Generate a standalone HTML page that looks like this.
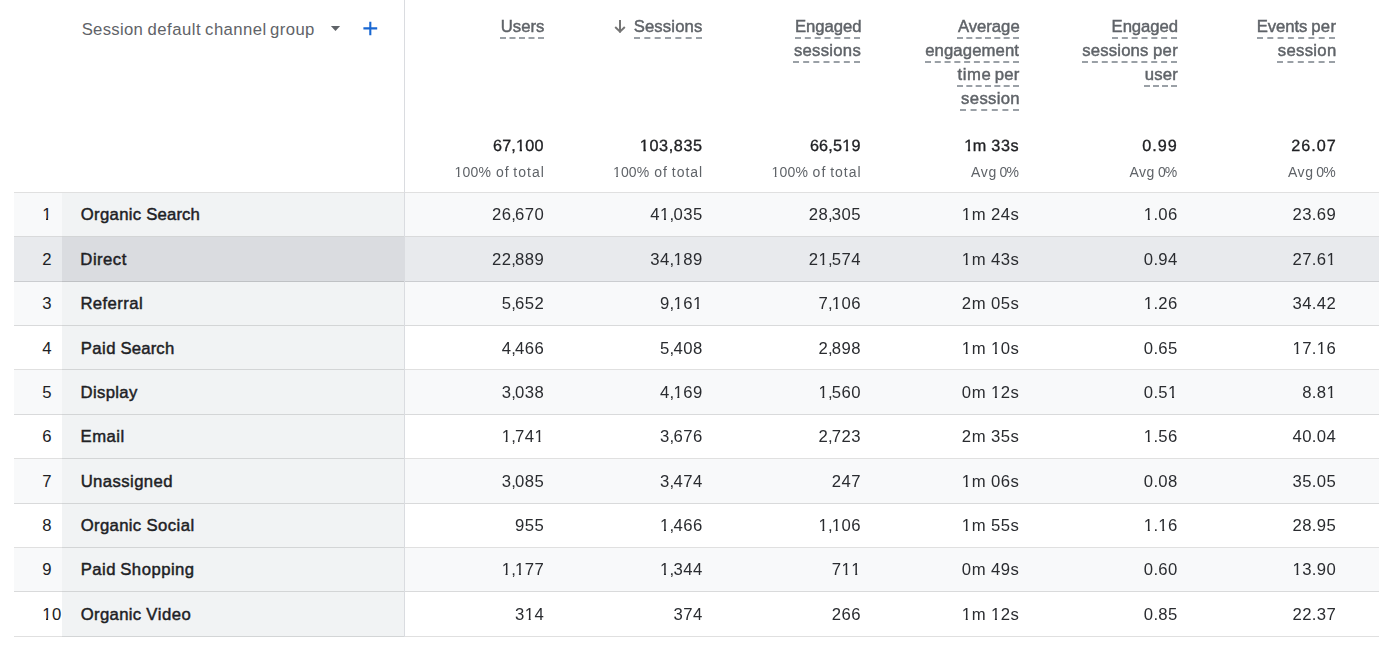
<!DOCTYPE html><html><head><meta charset="utf-8"><title>Report</title><style>
html,body{margin:0;padding:0;background:#fff;}
body{width:1384px;height:645px;position:relative;overflow:hidden;font-family:"Liberation Sans", sans-serif;}
.b{position:absolute;}
.t{position:absolute;height:20px;line-height:20px;white-space:pre;}
.num{position:absolute;left:0;height:20px;line-height:20px;width:1384px;}
.c{position:absolute;top:0;text-align:center;display:block;}
.ul{position:absolute;height:0;border-bottom:2px dashed #9aa0a6;}
</style></head><body>
<div class="b" style="left:14px;top:193px;width:1365px;height:44px;background:#f8f9fa"></div>
<div class="b" style="left:62px;top:193px;width:342px;height:44px;background:#f1f3f4"></div>
<div class="b" style="left:14px;top:237px;width:1365px;height:45px;background:#e8eaed"></div>
<div class="b" style="left:62px;top:237px;width:342px;height:45px;background:#dadce0"></div>
<div class="b" style="left:14px;top:282px;width:1365px;height:44px;background:#f8f9fa"></div>
<div class="b" style="left:62px;top:282px;width:342px;height:44px;background:#f1f3f4"></div>
<div class="b" style="left:14px;top:326px;width:1365px;height:44px;background:#fff"></div>
<div class="b" style="left:62px;top:326px;width:342px;height:44px;background:#f1f3f4"></div>
<div class="b" style="left:14px;top:370px;width:1365px;height:45px;background:#f8f9fa"></div>
<div class="b" style="left:62px;top:370px;width:342px;height:45px;background:#f1f3f4"></div>
<div class="b" style="left:14px;top:415px;width:1365px;height:44px;background:#fff"></div>
<div class="b" style="left:62px;top:415px;width:342px;height:44px;background:#f1f3f4"></div>
<div class="b" style="left:14px;top:459px;width:1365px;height:45px;background:#f8f9fa"></div>
<div class="b" style="left:62px;top:459px;width:342px;height:45px;background:#f1f3f4"></div>
<div class="b" style="left:14px;top:504px;width:1365px;height:44px;background:#fff"></div>
<div class="b" style="left:62px;top:504px;width:342px;height:44px;background:#f1f3f4"></div>
<div class="b" style="left:14px;top:548px;width:1365px;height:44px;background:#f8f9fa"></div>
<div class="b" style="left:62px;top:548px;width:342px;height:44px;background:#f1f3f4"></div>
<div class="b" style="left:14px;top:592px;width:1365px;height:45px;background:#fff"></div>
<div class="b" style="left:62px;top:592px;width:342px;height:45px;background:#f1f3f4"></div>
<div class="b" style="left:14px;top:192px;width:1365px;height:1px;background:rgba(0,0,0,0.12)"></div>
<div class="b" style="left:14px;top:236px;width:1365px;height:1px;background:rgba(0,0,0,0.12)"></div>
<div class="b" style="left:14px;top:281px;width:1365px;height:1px;background:rgba(0,0,0,0.12)"></div>
<div class="b" style="left:14px;top:325px;width:1365px;height:1px;background:rgba(0,0,0,0.12)"></div>
<div class="b" style="left:14px;top:369px;width:1365px;height:1px;background:rgba(0,0,0,0.12)"></div>
<div class="b" style="left:14px;top:414px;width:1365px;height:1px;background:rgba(0,0,0,0.12)"></div>
<div class="b" style="left:14px;top:458px;width:1365px;height:1px;background:rgba(0,0,0,0.12)"></div>
<div class="b" style="left:14px;top:503px;width:1365px;height:1px;background:rgba(0,0,0,0.12)"></div>
<div class="b" style="left:14px;top:547px;width:1365px;height:1px;background:rgba(0,0,0,0.12)"></div>
<div class="b" style="left:14px;top:591px;width:1365px;height:1px;background:rgba(0,0,0,0.12)"></div>
<div class="b" style="left:14px;top:636px;width:1365px;height:1px;background:rgba(0,0,0,0.12)"></div>
<div class="b" style="left:404px;top:0;width:1px;height:637px;background:#dadce0"></div>
<svg class="b" style="left:320px;top:14px" width="30" height="30" viewBox="0 0 30 30"><path d="M10.9 11.9H20.1L15.5 16.9z" fill="#5f6368"/></svg>
<svg class="b" style="left:360px;top:18px" width="21" height="21" viewBox="0 0 21 21"><path d="M3.4 10.4H17.2M10.3 3.8V17.2" stroke="#1967d2" stroke-width="2.1" fill="none"/></svg>
<svg class="b" style="left:608px;top:14px" width="24" height="26" viewBox="0 0 24 26"><path d="M12 6.05V18.4" stroke="#757575" stroke-width="2" fill="none"/><path d="M7.2 13L12 17.75L16.8 13" stroke="#757575" stroke-width="1.9" fill="none" stroke-linejoin="miter"/></svg>
<div class="ul" style="left:500px;top:37px;width:44px"></div>
<div class="ul" style="left:634px;top:37px;width:68px"></div>
<div class="ul" style="left:795px;top:37px;width:65px"></div>
<div class="ul" style="left:793px;top:61px;width:67px"></div>
<div class="ul" style="left:957px;top:37px;width:62px"></div>
<div class="ul" style="left:925px;top:61px;width:94px"></div>
<div class="ul" style="left:957px;top:85px;width:62px"></div>
<div class="ul" style="left:960px;top:109px;width:59px"></div>
<div class="ul" style="left:1112px;top:37px;width:65px"></div>
<div class="ul" style="left:1082px;top:61px;width:95px"></div>
<div class="ul" style="left:1144px;top:85px;width:33px"></div>
<div class="ul" style="left:1257px;top:37px;width:78px"></div>
<div class="ul" style="left:1277px;top:61px;width:58px"></div>
<div class="num" style="top:205px;font-size:16.7px;color:#202124"><span class="c" style="left:41.90px;width:9.75px"><span style="display:inline-block;clip-path:polygon(-2px -2px,30px -2px,30px 13.00px,5.98px 13.00px,5.98px 30px,3.90px 30px,3.90px 13.00px,-2px 13.00px)">1</span></span></div>
<div class="num" style="top:250px;font-size:16.7px;color:#202124"><span class="c" style="left:41.90px;width:9.75px">2</span></div>
<div class="num" style="top:294px;font-size:16.7px;color:#202124"><span class="c" style="left:41.90px;width:9.75px">3</span></div>
<div class="num" style="top:339px;font-size:16.7px;color:#202124"><span class="c" style="left:41.90px;width:9.75px">4</span></div>
<div class="num" style="top:383px;font-size:16.7px;color:#202124"><span class="c" style="left:41.90px;width:9.75px">5</span></div>
<div class="num" style="top:427px;font-size:16.7px;color:#202124"><span class="c" style="left:41.90px;width:9.75px">6</span></div>
<div class="num" style="top:472px;font-size:16.7px;color:#202124"><span class="c" style="left:41.90px;width:9.75px">7</span></div>
<div class="num" style="top:516px;font-size:16.7px;color:#202124"><span class="c" style="left:41.90px;width:9.75px">8</span></div>
<div class="num" style="top:560px;font-size:16.7px;color:#202124"><span class="c" style="left:41.90px;width:9.75px">9</span></div>
<div class="num" style="top:605px;font-size:16.7px;color:#202124"><span class="c" style="left:41.90px;width:9.75px"><span style="display:inline-block;clip-path:polygon(-2px -2px,30px -2px,30px 13.00px,5.98px 13.00px,5.98px 30px,3.90px 30px,3.90px 13.00px,-2px 13.00px)">1</span></span><span class="c" style="left:51.65px;width:9.75px">0</span></div>
<div class="t" id="hdim_0" style="left:81.69px;top:20px;font-size:16.7px;color:#5f6368;letter-spacing:0.307px;">Session</div>
<div class="t" id="hdim_1" style="left:147.56px;top:20px;font-size:16.7px;color:#5f6368;letter-spacing:0.503px;">default</div>
<div class="t" id="hdim_2" style="left:205.12px;top:20px;font-size:16.7px;color:#5f6368;letter-spacing:0.426px;">channel</div>
<div class="t" id="hdim_3" style="left:270.06px;top:20px;font-size:16.7px;color:#5f6368;letter-spacing:0.408px;">group</div>
<div class="t" id="n0_0" style="left:80.79px;top:205px;font-size:16.7px;color:#202124;letter-spacing:0.328px;-webkit-text-stroke:0.45px currentColor;">Organic</div>
<div class="t" id="n0_1" style="left:146.33px;top:205px;font-size:16.7px;color:#202124;letter-spacing:0.125px;-webkit-text-stroke:0.45px currentColor;">Search</div>
<div class="t" id="n1_0" style="left:80.35px;top:250px;font-size:16.7px;color:#202124;letter-spacing:0.482px;-webkit-text-stroke:0.45px currentColor;">Direct</div>
<div class="t" id="n2_0" style="left:80.39px;top:294px;font-size:16.7px;color:#202124;letter-spacing:0.419px;-webkit-text-stroke:0.45px currentColor;">Referral</div>
<div class="t" id="n3_0" style="left:80.66px;top:339px;font-size:16.7px;color:#202124;letter-spacing:0.468px;-webkit-text-stroke:0.45px currentColor;">Paid</div>
<div class="t" id="n3_1" style="left:120.42px;top:339px;font-size:16.7px;color:#202124;letter-spacing:0.179px;-webkit-text-stroke:0.45px currentColor;">Search</div>
<div class="t" id="n4_0" style="left:80.54px;top:383px;font-size:16.7px;color:#202124;letter-spacing:0.332px;-webkit-text-stroke:0.45px currentColor;">Display</div>
<div class="t" id="n5_0" style="left:80.53px;top:427px;font-size:16.7px;color:#202124;letter-spacing:0.492px;-webkit-text-stroke:0.45px currentColor;">Email</div>
<div class="t" id="n6_0" style="left:80.64px;top:472px;font-size:16.7px;color:#202124;letter-spacing:0.422px;-webkit-text-stroke:0.45px currentColor;">Unassigned</div>
<div class="t" id="n7_0" style="left:80.79px;top:516px;font-size:16.7px;color:#202124;letter-spacing:0.328px;-webkit-text-stroke:0.45px currentColor;">Organic</div>
<div class="t" id="n7_1" style="left:146.40px;top:516px;font-size:16.7px;color:#202124;letter-spacing:0.483px;-webkit-text-stroke:0.45px currentColor;">Social</div>
<div class="t" id="n8_0" style="left:80.66px;top:560px;font-size:16.7px;color:#202124;letter-spacing:0.468px;-webkit-text-stroke:0.45px currentColor;">Paid</div>
<div class="t" id="n8_1" style="left:120.27px;top:560px;font-size:16.7px;color:#202124;letter-spacing:0.477px;-webkit-text-stroke:0.45px currentColor;">Shopping</div>
<div class="t" id="n9_0" style="left:80.79px;top:605px;font-size:16.7px;color:#202124;letter-spacing:0.328px;-webkit-text-stroke:0.45px currentColor;">Organic</div>
<div class="t" id="n9_1" style="left:146.30px;top:605px;font-size:16.7px;color:#202124;letter-spacing:0.530px;-webkit-text-stroke:0.45px currentColor;">Video</div>
<div class="b" style="left:0;top:0;width:1384px;height:645px;will-change:transform">
<div class="num" style="top:205px;font-size:16.7px;color:#2a2c30"><span class="c" style="left:491.65px;width:9.75px">2</span><span class="c" style="left:501.40px;width:9.75px">6</span><span class="c" style="left:511.15px;width:3.60px">,</span><span class="c" style="left:514.75px;width:9.75px">6</span><span class="c" style="left:524.50px;width:9.75px">7</span><span class="c" style="left:534.25px;width:9.75px">0</span></div>
<div class="num" style="top:205px;font-size:16.7px;color:#2a2c30"><span class="c" style="left:650.05px;width:9.75px">4</span><span class="c" style="left:659.80px;width:9.75px"><span style="display:inline-block;clip-path:polygon(-2px -2px,30px -2px,30px 13.00px,5.98px 13.00px,5.98px 30px,3.90px 30px,3.90px 13.00px,-2px 13.00px)">1</span></span><span class="c" style="left:669.55px;width:3.60px">,</span><span class="c" style="left:673.15px;width:9.75px">0</span><span class="c" style="left:682.90px;width:9.75px">3</span><span class="c" style="left:692.65px;width:9.75px">5</span></div>
<div class="num" style="top:205px;font-size:16.7px;color:#2a2c30"><span class="c" style="left:808.45px;width:9.75px">2</span><span class="c" style="left:818.20px;width:9.75px">8</span><span class="c" style="left:827.95px;width:3.60px">,</span><span class="c" style="left:831.55px;width:9.75px">3</span><span class="c" style="left:841.30px;width:9.75px">0</span><span class="c" style="left:851.05px;width:9.75px">5</span></div>
<div class="num" style="top:205px;font-size:16.7px;color:#2a2c30"><span class="c" style="left:961.56px;width:9.75px"><span style="display:inline-block;clip-path:polygon(-2px -2px,30px -2px,30px 13.00px,5.98px 13.00px,5.98px 30px,3.90px 30px,3.90px 13.00px,-2px 13.00px)">1</span></span><span class="c" style="left:971.31px;width:14.97px">m</span><span class="c" style="left:986.28px;width:4.46px"> </span><span class="c" style="left:990.74px;width:9.75px">2</span><span class="c" style="left:1000.49px;width:9.75px">4</span><span class="c" style="left:1010.24px;width:8.96px">s</span></div>
<div class="num" style="top:205px;font-size:16.7px;color:#2a2c30"><span class="c" style="left:1143.63px;width:9.75px"><span style="display:inline-block;clip-path:polygon(-2px -2px,30px -2px,30px 13.00px,5.98px 13.00px,5.98px 30px,3.90px 30px,3.90px 13.00px,-2px 13.00px)">1</span></span><span class="c" style="left:1153.38px;width:4.72px">.</span><span class="c" style="left:1158.10px;width:9.75px">0</span><span class="c" style="left:1167.85px;width:9.75px">6</span></div>
<div class="num" style="top:205px;font-size:16.7px;color:#2a2c30"><span class="c" style="left:1292.28px;width:9.75px">2</span><span class="c" style="left:1302.03px;width:9.75px">3</span><span class="c" style="left:1311.78px;width:4.72px">.</span><span class="c" style="left:1316.50px;width:9.75px">6</span><span class="c" style="left:1326.25px;width:9.75px">9</span></div>
<div class="num" style="top:250px;font-size:16.7px;color:#2a2c30"><span class="c" style="left:491.65px;width:9.75px">2</span><span class="c" style="left:501.40px;width:9.75px">2</span><span class="c" style="left:511.15px;width:3.60px">,</span><span class="c" style="left:514.75px;width:9.75px">8</span><span class="c" style="left:524.50px;width:9.75px">8</span><span class="c" style="left:534.25px;width:9.75px">9</span></div>
<div class="num" style="top:250px;font-size:16.7px;color:#2a2c30"><span class="c" style="left:650.05px;width:9.75px">3</span><span class="c" style="left:659.80px;width:9.75px">4</span><span class="c" style="left:669.55px;width:3.60px">,</span><span class="c" style="left:673.15px;width:9.75px"><span style="display:inline-block;clip-path:polygon(-2px -2px,30px -2px,30px 13.00px,5.98px 13.00px,5.98px 30px,3.90px 30px,3.90px 13.00px,-2px 13.00px)">1</span></span><span class="c" style="left:682.90px;width:9.75px">8</span><span class="c" style="left:692.65px;width:9.75px">9</span></div>
<div class="num" style="top:250px;font-size:16.7px;color:#2a2c30"><span class="c" style="left:808.45px;width:9.75px">2</span><span class="c" style="left:818.20px;width:9.75px"><span style="display:inline-block;clip-path:polygon(-2px -2px,30px -2px,30px 13.00px,5.98px 13.00px,5.98px 30px,3.90px 30px,3.90px 13.00px,-2px 13.00px)">1</span></span><span class="c" style="left:827.95px;width:3.60px">,</span><span class="c" style="left:831.55px;width:9.75px">5</span><span class="c" style="left:841.30px;width:9.75px">7</span><span class="c" style="left:851.05px;width:9.75px">4</span></div>
<div class="num" style="top:250px;font-size:16.7px;color:#2a2c30"><span class="c" style="left:961.56px;width:9.75px"><span style="display:inline-block;clip-path:polygon(-2px -2px,30px -2px,30px 13.00px,5.98px 13.00px,5.98px 30px,3.90px 30px,3.90px 13.00px,-2px 13.00px)">1</span></span><span class="c" style="left:971.31px;width:14.97px">m</span><span class="c" style="left:986.28px;width:4.46px"> </span><span class="c" style="left:990.74px;width:9.75px">4</span><span class="c" style="left:1000.49px;width:9.75px">3</span><span class="c" style="left:1010.24px;width:8.96px">s</span></div>
<div class="num" style="top:250px;font-size:16.7px;color:#2a2c30"><span class="c" style="left:1143.63px;width:9.75px">0</span><span class="c" style="left:1153.38px;width:4.72px">.</span><span class="c" style="left:1158.10px;width:9.75px">9</span><span class="c" style="left:1167.85px;width:9.75px">4</span></div>
<div class="num" style="top:250px;font-size:16.7px;color:#2a2c30"><span class="c" style="left:1292.28px;width:9.75px">2</span><span class="c" style="left:1302.03px;width:9.75px">7</span><span class="c" style="left:1311.78px;width:4.72px">.</span><span class="c" style="left:1316.50px;width:9.75px">6</span><span class="c" style="left:1326.25px;width:9.75px"><span style="display:inline-block;clip-path:polygon(-2px -2px,30px -2px,30px 13.00px,5.98px 13.00px,5.98px 30px,3.90px 30px,3.90px 13.00px,-2px 13.00px)">1</span></span></div>
<div class="num" style="top:294px;font-size:16.7px;color:#2a2c30"><span class="c" style="left:501.40px;width:9.75px">5</span><span class="c" style="left:511.15px;width:3.60px">,</span><span class="c" style="left:514.75px;width:9.75px">6</span><span class="c" style="left:524.50px;width:9.75px">5</span><span class="c" style="left:534.25px;width:9.75px">2</span></div>
<div class="num" style="top:294px;font-size:16.7px;color:#2a2c30"><span class="c" style="left:659.80px;width:9.75px">9</span><span class="c" style="left:669.55px;width:3.60px">,</span><span class="c" style="left:673.15px;width:9.75px"><span style="display:inline-block;clip-path:polygon(-2px -2px,30px -2px,30px 13.00px,5.98px 13.00px,5.98px 30px,3.90px 30px,3.90px 13.00px,-2px 13.00px)">1</span></span><span class="c" style="left:682.90px;width:9.75px">6</span><span class="c" style="left:692.65px;width:9.75px"><span style="display:inline-block;clip-path:polygon(-2px -2px,30px -2px,30px 13.00px,5.98px 13.00px,5.98px 30px,3.90px 30px,3.90px 13.00px,-2px 13.00px)">1</span></span></div>
<div class="num" style="top:294px;font-size:16.7px;color:#2a2c30"><span class="c" style="left:818.20px;width:9.75px">7</span><span class="c" style="left:827.95px;width:3.60px">,</span><span class="c" style="left:831.55px;width:9.75px"><span style="display:inline-block;clip-path:polygon(-2px -2px,30px -2px,30px 13.00px,5.98px 13.00px,5.98px 30px,3.90px 30px,3.90px 13.00px,-2px 13.00px)">1</span></span><span class="c" style="left:841.30px;width:9.75px">0</span><span class="c" style="left:851.05px;width:9.75px">6</span></div>
<div class="num" style="top:294px;font-size:16.7px;color:#2a2c30"><span class="c" style="left:961.56px;width:9.75px">2</span><span class="c" style="left:971.31px;width:14.97px">m</span><span class="c" style="left:986.28px;width:4.46px"> </span><span class="c" style="left:990.74px;width:9.75px">0</span><span class="c" style="left:1000.49px;width:9.75px">5</span><span class="c" style="left:1010.24px;width:8.96px">s</span></div>
<div class="num" style="top:294px;font-size:16.7px;color:#2a2c30"><span class="c" style="left:1143.63px;width:9.75px"><span style="display:inline-block;clip-path:polygon(-2px -2px,30px -2px,30px 13.00px,5.98px 13.00px,5.98px 30px,3.90px 30px,3.90px 13.00px,-2px 13.00px)">1</span></span><span class="c" style="left:1153.38px;width:4.72px">.</span><span class="c" style="left:1158.10px;width:9.75px">2</span><span class="c" style="left:1167.85px;width:9.75px">6</span></div>
<div class="num" style="top:294px;font-size:16.7px;color:#2a2c30"><span class="c" style="left:1292.28px;width:9.75px">3</span><span class="c" style="left:1302.03px;width:9.75px">4</span><span class="c" style="left:1311.78px;width:4.72px">.</span><span class="c" style="left:1316.50px;width:9.75px">4</span><span class="c" style="left:1326.25px;width:9.75px">2</span></div>
<div class="num" style="top:339px;font-size:16.7px;color:#2a2c30"><span class="c" style="left:501.40px;width:9.75px">4</span><span class="c" style="left:511.15px;width:3.60px">,</span><span class="c" style="left:514.75px;width:9.75px">4</span><span class="c" style="left:524.50px;width:9.75px">6</span><span class="c" style="left:534.25px;width:9.75px">6</span></div>
<div class="num" style="top:339px;font-size:16.7px;color:#2a2c30"><span class="c" style="left:659.80px;width:9.75px">5</span><span class="c" style="left:669.55px;width:3.60px">,</span><span class="c" style="left:673.15px;width:9.75px">4</span><span class="c" style="left:682.90px;width:9.75px">0</span><span class="c" style="left:692.65px;width:9.75px">8</span></div>
<div class="num" style="top:339px;font-size:16.7px;color:#2a2c30"><span class="c" style="left:818.20px;width:9.75px">2</span><span class="c" style="left:827.95px;width:3.60px">,</span><span class="c" style="left:831.55px;width:9.75px">8</span><span class="c" style="left:841.30px;width:9.75px">9</span><span class="c" style="left:851.05px;width:9.75px">8</span></div>
<div class="num" style="top:339px;font-size:16.7px;color:#2a2c30"><span class="c" style="left:961.56px;width:9.75px"><span style="display:inline-block;clip-path:polygon(-2px -2px,30px -2px,30px 13.00px,5.98px 13.00px,5.98px 30px,3.90px 30px,3.90px 13.00px,-2px 13.00px)">1</span></span><span class="c" style="left:971.31px;width:14.97px">m</span><span class="c" style="left:986.28px;width:4.46px"> </span><span class="c" style="left:990.74px;width:9.75px"><span style="display:inline-block;clip-path:polygon(-2px -2px,30px -2px,30px 13.00px,5.98px 13.00px,5.98px 30px,3.90px 30px,3.90px 13.00px,-2px 13.00px)">1</span></span><span class="c" style="left:1000.49px;width:9.75px">0</span><span class="c" style="left:1010.24px;width:8.96px">s</span></div>
<div class="num" style="top:339px;font-size:16.7px;color:#2a2c30"><span class="c" style="left:1143.63px;width:9.75px">0</span><span class="c" style="left:1153.38px;width:4.72px">.</span><span class="c" style="left:1158.10px;width:9.75px">6</span><span class="c" style="left:1167.85px;width:9.75px">5</span></div>
<div class="num" style="top:339px;font-size:16.7px;color:#2a2c30"><span class="c" style="left:1292.28px;width:9.75px"><span style="display:inline-block;clip-path:polygon(-2px -2px,30px -2px,30px 13.00px,5.98px 13.00px,5.98px 30px,3.90px 30px,3.90px 13.00px,-2px 13.00px)">1</span></span><span class="c" style="left:1302.03px;width:9.75px">7</span><span class="c" style="left:1311.78px;width:4.72px">.</span><span class="c" style="left:1316.50px;width:9.75px"><span style="display:inline-block;clip-path:polygon(-2px -2px,30px -2px,30px 13.00px,5.98px 13.00px,5.98px 30px,3.90px 30px,3.90px 13.00px,-2px 13.00px)">1</span></span><span class="c" style="left:1326.25px;width:9.75px">6</span></div>
<div class="num" style="top:383px;font-size:16.7px;color:#2a2c30"><span class="c" style="left:501.40px;width:9.75px">3</span><span class="c" style="left:511.15px;width:3.60px">,</span><span class="c" style="left:514.75px;width:9.75px">0</span><span class="c" style="left:524.50px;width:9.75px">3</span><span class="c" style="left:534.25px;width:9.75px">8</span></div>
<div class="num" style="top:383px;font-size:16.7px;color:#2a2c30"><span class="c" style="left:659.80px;width:9.75px">4</span><span class="c" style="left:669.55px;width:3.60px">,</span><span class="c" style="left:673.15px;width:9.75px"><span style="display:inline-block;clip-path:polygon(-2px -2px,30px -2px,30px 13.00px,5.98px 13.00px,5.98px 30px,3.90px 30px,3.90px 13.00px,-2px 13.00px)">1</span></span><span class="c" style="left:682.90px;width:9.75px">6</span><span class="c" style="left:692.65px;width:9.75px">9</span></div>
<div class="num" style="top:383px;font-size:16.7px;color:#2a2c30"><span class="c" style="left:818.20px;width:9.75px"><span style="display:inline-block;clip-path:polygon(-2px -2px,30px -2px,30px 13.00px,5.98px 13.00px,5.98px 30px,3.90px 30px,3.90px 13.00px,-2px 13.00px)">1</span></span><span class="c" style="left:827.95px;width:3.60px">,</span><span class="c" style="left:831.55px;width:9.75px">5</span><span class="c" style="left:841.30px;width:9.75px">6</span><span class="c" style="left:851.05px;width:9.75px">0</span></div>
<div class="num" style="top:383px;font-size:16.7px;color:#2a2c30"><span class="c" style="left:961.56px;width:9.75px">0</span><span class="c" style="left:971.31px;width:14.97px">m</span><span class="c" style="left:986.28px;width:4.46px"> </span><span class="c" style="left:990.74px;width:9.75px"><span style="display:inline-block;clip-path:polygon(-2px -2px,30px -2px,30px 13.00px,5.98px 13.00px,5.98px 30px,3.90px 30px,3.90px 13.00px,-2px 13.00px)">1</span></span><span class="c" style="left:1000.49px;width:9.75px">2</span><span class="c" style="left:1010.24px;width:8.96px">s</span></div>
<div class="num" style="top:383px;font-size:16.7px;color:#2a2c30"><span class="c" style="left:1143.63px;width:9.75px">0</span><span class="c" style="left:1153.38px;width:4.72px">.</span><span class="c" style="left:1158.10px;width:9.75px">5</span><span class="c" style="left:1167.85px;width:9.75px"><span style="display:inline-block;clip-path:polygon(-2px -2px,30px -2px,30px 13.00px,5.98px 13.00px,5.98px 30px,3.90px 30px,3.90px 13.00px,-2px 13.00px)">1</span></span></div>
<div class="num" style="top:383px;font-size:16.7px;color:#2a2c30"><span class="c" style="left:1302.03px;width:9.75px">8</span><span class="c" style="left:1311.78px;width:4.72px">.</span><span class="c" style="left:1316.50px;width:9.75px">8</span><span class="c" style="left:1326.25px;width:9.75px"><span style="display:inline-block;clip-path:polygon(-2px -2px,30px -2px,30px 13.00px,5.98px 13.00px,5.98px 30px,3.90px 30px,3.90px 13.00px,-2px 13.00px)">1</span></span></div>
<div class="num" style="top:427px;font-size:16.7px;color:#2a2c30"><span class="c" style="left:501.40px;width:9.75px"><span style="display:inline-block;clip-path:polygon(-2px -2px,30px -2px,30px 13.00px,5.98px 13.00px,5.98px 30px,3.90px 30px,3.90px 13.00px,-2px 13.00px)">1</span></span><span class="c" style="left:511.15px;width:3.60px">,</span><span class="c" style="left:514.75px;width:9.75px">7</span><span class="c" style="left:524.50px;width:9.75px">4</span><span class="c" style="left:534.25px;width:9.75px"><span style="display:inline-block;clip-path:polygon(-2px -2px,30px -2px,30px 13.00px,5.98px 13.00px,5.98px 30px,3.90px 30px,3.90px 13.00px,-2px 13.00px)">1</span></span></div>
<div class="num" style="top:427px;font-size:16.7px;color:#2a2c30"><span class="c" style="left:659.80px;width:9.75px">3</span><span class="c" style="left:669.55px;width:3.60px">,</span><span class="c" style="left:673.15px;width:9.75px">6</span><span class="c" style="left:682.90px;width:9.75px">7</span><span class="c" style="left:692.65px;width:9.75px">6</span></div>
<div class="num" style="top:427px;font-size:16.7px;color:#2a2c30"><span class="c" style="left:818.20px;width:9.75px">2</span><span class="c" style="left:827.95px;width:3.60px">,</span><span class="c" style="left:831.55px;width:9.75px">7</span><span class="c" style="left:841.30px;width:9.75px">2</span><span class="c" style="left:851.05px;width:9.75px">3</span></div>
<div class="num" style="top:427px;font-size:16.7px;color:#2a2c30"><span class="c" style="left:961.56px;width:9.75px">2</span><span class="c" style="left:971.31px;width:14.97px">m</span><span class="c" style="left:986.28px;width:4.46px"> </span><span class="c" style="left:990.74px;width:9.75px">3</span><span class="c" style="left:1000.49px;width:9.75px">5</span><span class="c" style="left:1010.24px;width:8.96px">s</span></div>
<div class="num" style="top:427px;font-size:16.7px;color:#2a2c30"><span class="c" style="left:1143.63px;width:9.75px"><span style="display:inline-block;clip-path:polygon(-2px -2px,30px -2px,30px 13.00px,5.98px 13.00px,5.98px 30px,3.90px 30px,3.90px 13.00px,-2px 13.00px)">1</span></span><span class="c" style="left:1153.38px;width:4.72px">.</span><span class="c" style="left:1158.10px;width:9.75px">5</span><span class="c" style="left:1167.85px;width:9.75px">6</span></div>
<div class="num" style="top:427px;font-size:16.7px;color:#2a2c30"><span class="c" style="left:1292.28px;width:9.75px">4</span><span class="c" style="left:1302.03px;width:9.75px">0</span><span class="c" style="left:1311.78px;width:4.72px">.</span><span class="c" style="left:1316.50px;width:9.75px">0</span><span class="c" style="left:1326.25px;width:9.75px">4</span></div>
<div class="num" style="top:472px;font-size:16.7px;color:#2a2c30"><span class="c" style="left:501.40px;width:9.75px">3</span><span class="c" style="left:511.15px;width:3.60px">,</span><span class="c" style="left:514.75px;width:9.75px">0</span><span class="c" style="left:524.50px;width:9.75px">8</span><span class="c" style="left:534.25px;width:9.75px">5</span></div>
<div class="num" style="top:472px;font-size:16.7px;color:#2a2c30"><span class="c" style="left:659.80px;width:9.75px">3</span><span class="c" style="left:669.55px;width:3.60px">,</span><span class="c" style="left:673.15px;width:9.75px">4</span><span class="c" style="left:682.90px;width:9.75px">7</span><span class="c" style="left:692.65px;width:9.75px">4</span></div>
<div class="num" style="top:472px;font-size:16.7px;color:#2a2c30"><span class="c" style="left:831.55px;width:9.75px">2</span><span class="c" style="left:841.30px;width:9.75px">4</span><span class="c" style="left:851.05px;width:9.75px">7</span></div>
<div class="num" style="top:472px;font-size:16.7px;color:#2a2c30"><span class="c" style="left:961.56px;width:9.75px"><span style="display:inline-block;clip-path:polygon(-2px -2px,30px -2px,30px 13.00px,5.98px 13.00px,5.98px 30px,3.90px 30px,3.90px 13.00px,-2px 13.00px)">1</span></span><span class="c" style="left:971.31px;width:14.97px">m</span><span class="c" style="left:986.28px;width:4.46px"> </span><span class="c" style="left:990.74px;width:9.75px">0</span><span class="c" style="left:1000.49px;width:9.75px">6</span><span class="c" style="left:1010.24px;width:8.96px">s</span></div>
<div class="num" style="top:472px;font-size:16.7px;color:#2a2c30"><span class="c" style="left:1143.63px;width:9.75px">0</span><span class="c" style="left:1153.38px;width:4.72px">.</span><span class="c" style="left:1158.10px;width:9.75px">0</span><span class="c" style="left:1167.85px;width:9.75px">8</span></div>
<div class="num" style="top:472px;font-size:16.7px;color:#2a2c30"><span class="c" style="left:1292.28px;width:9.75px">3</span><span class="c" style="left:1302.03px;width:9.75px">5</span><span class="c" style="left:1311.78px;width:4.72px">.</span><span class="c" style="left:1316.50px;width:9.75px">0</span><span class="c" style="left:1326.25px;width:9.75px">5</span></div>
<div class="num" style="top:516px;font-size:16.7px;color:#2a2c30"><span class="c" style="left:514.75px;width:9.75px">9</span><span class="c" style="left:524.50px;width:9.75px">5</span><span class="c" style="left:534.25px;width:9.75px">5</span></div>
<div class="num" style="top:516px;font-size:16.7px;color:#2a2c30"><span class="c" style="left:659.80px;width:9.75px"><span style="display:inline-block;clip-path:polygon(-2px -2px,30px -2px,30px 13.00px,5.98px 13.00px,5.98px 30px,3.90px 30px,3.90px 13.00px,-2px 13.00px)">1</span></span><span class="c" style="left:669.55px;width:3.60px">,</span><span class="c" style="left:673.15px;width:9.75px">4</span><span class="c" style="left:682.90px;width:9.75px">6</span><span class="c" style="left:692.65px;width:9.75px">6</span></div>
<div class="num" style="top:516px;font-size:16.7px;color:#2a2c30"><span class="c" style="left:818.20px;width:9.75px"><span style="display:inline-block;clip-path:polygon(-2px -2px,30px -2px,30px 13.00px,5.98px 13.00px,5.98px 30px,3.90px 30px,3.90px 13.00px,-2px 13.00px)">1</span></span><span class="c" style="left:827.95px;width:3.60px">,</span><span class="c" style="left:831.55px;width:9.75px"><span style="display:inline-block;clip-path:polygon(-2px -2px,30px -2px,30px 13.00px,5.98px 13.00px,5.98px 30px,3.90px 30px,3.90px 13.00px,-2px 13.00px)">1</span></span><span class="c" style="left:841.30px;width:9.75px">0</span><span class="c" style="left:851.05px;width:9.75px">6</span></div>
<div class="num" style="top:516px;font-size:16.7px;color:#2a2c30"><span class="c" style="left:961.56px;width:9.75px"><span style="display:inline-block;clip-path:polygon(-2px -2px,30px -2px,30px 13.00px,5.98px 13.00px,5.98px 30px,3.90px 30px,3.90px 13.00px,-2px 13.00px)">1</span></span><span class="c" style="left:971.31px;width:14.97px">m</span><span class="c" style="left:986.28px;width:4.46px"> </span><span class="c" style="left:990.74px;width:9.75px">5</span><span class="c" style="left:1000.49px;width:9.75px">5</span><span class="c" style="left:1010.24px;width:8.96px">s</span></div>
<div class="num" style="top:516px;font-size:16.7px;color:#2a2c30"><span class="c" style="left:1143.63px;width:9.75px"><span style="display:inline-block;clip-path:polygon(-2px -2px,30px -2px,30px 13.00px,5.98px 13.00px,5.98px 30px,3.90px 30px,3.90px 13.00px,-2px 13.00px)">1</span></span><span class="c" style="left:1153.38px;width:4.72px">.</span><span class="c" style="left:1158.10px;width:9.75px"><span style="display:inline-block;clip-path:polygon(-2px -2px,30px -2px,30px 13.00px,5.98px 13.00px,5.98px 30px,3.90px 30px,3.90px 13.00px,-2px 13.00px)">1</span></span><span class="c" style="left:1167.85px;width:9.75px">6</span></div>
<div class="num" style="top:516px;font-size:16.7px;color:#2a2c30"><span class="c" style="left:1292.28px;width:9.75px">2</span><span class="c" style="left:1302.03px;width:9.75px">8</span><span class="c" style="left:1311.78px;width:4.72px">.</span><span class="c" style="left:1316.50px;width:9.75px">9</span><span class="c" style="left:1326.25px;width:9.75px">5</span></div>
<div class="num" style="top:560px;font-size:16.7px;color:#2a2c30"><span class="c" style="left:501.40px;width:9.75px"><span style="display:inline-block;clip-path:polygon(-2px -2px,30px -2px,30px 13.00px,5.98px 13.00px,5.98px 30px,3.90px 30px,3.90px 13.00px,-2px 13.00px)">1</span></span><span class="c" style="left:511.15px;width:3.60px">,</span><span class="c" style="left:514.75px;width:9.75px"><span style="display:inline-block;clip-path:polygon(-2px -2px,30px -2px,30px 13.00px,5.98px 13.00px,5.98px 30px,3.90px 30px,3.90px 13.00px,-2px 13.00px)">1</span></span><span class="c" style="left:524.50px;width:9.75px">7</span><span class="c" style="left:534.25px;width:9.75px">7</span></div>
<div class="num" style="top:560px;font-size:16.7px;color:#2a2c30"><span class="c" style="left:659.80px;width:9.75px"><span style="display:inline-block;clip-path:polygon(-2px -2px,30px -2px,30px 13.00px,5.98px 13.00px,5.98px 30px,3.90px 30px,3.90px 13.00px,-2px 13.00px)">1</span></span><span class="c" style="left:669.55px;width:3.60px">,</span><span class="c" style="left:673.15px;width:9.75px">3</span><span class="c" style="left:682.90px;width:9.75px">4</span><span class="c" style="left:692.65px;width:9.75px">4</span></div>
<div class="num" style="top:560px;font-size:16.7px;color:#2a2c30"><span class="c" style="left:831.55px;width:9.75px">7</span><span class="c" style="left:841.30px;width:9.75px"><span style="display:inline-block;clip-path:polygon(-2px -2px,30px -2px,30px 13.00px,5.98px 13.00px,5.98px 30px,3.90px 30px,3.90px 13.00px,-2px 13.00px)">1</span></span><span class="c" style="left:851.05px;width:9.75px"><span style="display:inline-block;clip-path:polygon(-2px -2px,30px -2px,30px 13.00px,5.98px 13.00px,5.98px 30px,3.90px 30px,3.90px 13.00px,-2px 13.00px)">1</span></span></div>
<div class="num" style="top:560px;font-size:16.7px;color:#2a2c30"><span class="c" style="left:961.56px;width:9.75px">0</span><span class="c" style="left:971.31px;width:14.97px">m</span><span class="c" style="left:986.28px;width:4.46px"> </span><span class="c" style="left:990.74px;width:9.75px">4</span><span class="c" style="left:1000.49px;width:9.75px">9</span><span class="c" style="left:1010.24px;width:8.96px">s</span></div>
<div class="num" style="top:560px;font-size:16.7px;color:#2a2c30"><span class="c" style="left:1143.63px;width:9.75px">0</span><span class="c" style="left:1153.38px;width:4.72px">.</span><span class="c" style="left:1158.10px;width:9.75px">6</span><span class="c" style="left:1167.85px;width:9.75px">0</span></div>
<div class="num" style="top:560px;font-size:16.7px;color:#2a2c30"><span class="c" style="left:1292.28px;width:9.75px"><span style="display:inline-block;clip-path:polygon(-2px -2px,30px -2px,30px 13.00px,5.98px 13.00px,5.98px 30px,3.90px 30px,3.90px 13.00px,-2px 13.00px)">1</span></span><span class="c" style="left:1302.03px;width:9.75px">3</span><span class="c" style="left:1311.78px;width:4.72px">.</span><span class="c" style="left:1316.50px;width:9.75px">9</span><span class="c" style="left:1326.25px;width:9.75px">0</span></div>
<div class="num" style="top:605px;font-size:16.7px;color:#2a2c30"><span class="c" style="left:514.75px;width:9.75px">3</span><span class="c" style="left:524.50px;width:9.75px"><span style="display:inline-block;clip-path:polygon(-2px -2px,30px -2px,30px 13.00px,5.98px 13.00px,5.98px 30px,3.90px 30px,3.90px 13.00px,-2px 13.00px)">1</span></span><span class="c" style="left:534.25px;width:9.75px">4</span></div>
<div class="num" style="top:605px;font-size:16.7px;color:#2a2c30"><span class="c" style="left:673.15px;width:9.75px">3</span><span class="c" style="left:682.90px;width:9.75px">7</span><span class="c" style="left:692.65px;width:9.75px">4</span></div>
<div class="num" style="top:605px;font-size:16.7px;color:#2a2c30"><span class="c" style="left:831.55px;width:9.75px">2</span><span class="c" style="left:841.30px;width:9.75px">6</span><span class="c" style="left:851.05px;width:9.75px">6</span></div>
<div class="num" style="top:605px;font-size:16.7px;color:#2a2c30"><span class="c" style="left:961.56px;width:9.75px"><span style="display:inline-block;clip-path:polygon(-2px -2px,30px -2px,30px 13.00px,5.98px 13.00px,5.98px 30px,3.90px 30px,3.90px 13.00px,-2px 13.00px)">1</span></span><span class="c" style="left:971.31px;width:14.97px">m</span><span class="c" style="left:986.28px;width:4.46px"> </span><span class="c" style="left:990.74px;width:9.75px"><span style="display:inline-block;clip-path:polygon(-2px -2px,30px -2px,30px 13.00px,5.98px 13.00px,5.98px 30px,3.90px 30px,3.90px 13.00px,-2px 13.00px)">1</span></span><span class="c" style="left:1000.49px;width:9.75px">2</span><span class="c" style="left:1010.24px;width:8.96px">s</span></div>
<div class="num" style="top:605px;font-size:16.7px;color:#2a2c30"><span class="c" style="left:1143.63px;width:9.75px">0</span><span class="c" style="left:1153.38px;width:4.72px">.</span><span class="c" style="left:1158.10px;width:9.75px">8</span><span class="c" style="left:1167.85px;width:9.75px">5</span></div>
<div class="num" style="top:605px;font-size:16.7px;color:#2a2c30"><span class="c" style="left:1292.28px;width:9.75px">2</span><span class="c" style="left:1302.03px;width:9.75px">2</span><span class="c" style="left:1311.78px;width:4.72px">.</span><span class="c" style="left:1316.50px;width:9.75px">3</span><span class="c" style="left:1326.25px;width:9.75px">7</span></div>
<div class="t" id="h0_0" style="left:500.65px;top:17px;font-size:16.7px;color:#5f6368;letter-spacing:0.053px;-webkit-text-stroke:0.45px currentColor;">Users</div>
<div class="t" id="h1_0" style="left:633.68px;top:17px;font-size:16.7px;color:#5f6368;letter-spacing:0.141px;-webkit-text-stroke:0.45px currentColor;">Sessions</div>
<div class="t" id="h2_0" style="left:794.88px;top:17px;font-size:16.7px;color:#5f6368;letter-spacing:-0.014px;-webkit-text-stroke:0.45px currentColor;">Engaged</div>
<div class="t" id="h3_0" style="left:793.88px;top:41px;font-size:16.7px;color:#5f6368;letter-spacing:0.281px;-webkit-text-stroke:0.45px currentColor;">sessions</div>
<div class="t" id="h4_0" style="left:957.90px;top:17px;font-size:16.7px;color:#5f6368;letter-spacing:-0.014px;-webkit-text-stroke:0.45px currentColor;">Average</div>
<div class="t" id="h5_0" style="left:925.20px;top:41px;font-size:16.7px;color:#5f6368;letter-spacing:0.113px;-webkit-text-stroke:0.45px currentColor;">engagement</div>
<div class="t" id="h6_0" style="left:957.62px;top:65px;font-size:16.7px;color:#5f6368;letter-spacing:0.570px;-webkit-text-stroke:0.45px currentColor;">time</div>
<div class="t" id="h6_1" style="left:994.73px;top:65px;font-size:16.7px;color:#5f6368;letter-spacing:0.229px;-webkit-text-stroke:0.45px currentColor;">per</div>
<div class="t" id="h7_0" style="left:961.11px;top:89px;font-size:16.7px;color:#5f6368;letter-spacing:0.325px;-webkit-text-stroke:0.45px currentColor;">session</div>
<div class="t" id="h8_0" style="left:1111.55px;top:17px;font-size:16.7px;color:#5f6368;letter-spacing:-0.043px;-webkit-text-stroke:0.45px currentColor;">Engaged</div>
<div class="t" id="h9_0" style="left:1082.13px;top:41px;font-size:16.7px;color:#5f6368;letter-spacing:0.199px;-webkit-text-stroke:0.45px currentColor;">sessions</div>
<div class="t" id="h9_1" style="left:1152.88px;top:41px;font-size:16.7px;color:#5f6368;letter-spacing:0.390px;-webkit-text-stroke:0.45px currentColor;">per</div>
<div class="t" id="h10_0" style="left:1144.84px;top:65px;font-size:16.7px;color:#5f6368;letter-spacing:0.144px;-webkit-text-stroke:0.45px currentColor;">user</div>
<div class="t" id="h11_0" style="left:1256.73px;top:17px;font-size:16.7px;color:#5f6368;letter-spacing:-0.077px;-webkit-text-stroke:0.45px currentColor;">Events</div>
<div class="t" id="h11_1" style="left:1311.14px;top:17px;font-size:16.7px;color:#5f6368;letter-spacing:0.406px;-webkit-text-stroke:0.45px currentColor;">per</div>
<div class="t" id="h12_0" style="left:1277.79px;top:41px;font-size:16.7px;color:#5f6368;letter-spacing:0.300px;-webkit-text-stroke:0.45px currentColor;">session</div>
<div class="t" id="t0_0" style="left:492.94px;top:136px;font-size:16.2px;color:#202124;letter-spacing:0.200px;-webkit-text-stroke:0.32px currentColor;text-rendering:geometricPrecision;">67,<span style="display:inline-block;clip-path:polygon(-2px -2px,30px -2px,30px 13.00px,5.96px 13.00px,5.96px 30px,3.62px 30px,3.62px 13.00px,-2px 13.00px)">1</span>00</div>
<div class="t" id="t1_0" style="left:639.86px;top:136px;font-size:16.2px;color:#202124;letter-spacing:0.606px;-webkit-text-stroke:0.32px currentColor;text-rendering:geometricPrecision;"><span style="display:inline-block;clip-path:polygon(-2px -2px,30px -2px,30px 13.00px,5.96px 13.00px,5.96px 30px,3.62px 30px,3.62px 13.00px,-2px 13.00px)">1</span>03,835</div>
<div class="t" id="t2_0" style="left:809.90px;top:136px;font-size:16.2px;color:#202124;letter-spacing:0.193px;-webkit-text-stroke:0.32px currentColor;text-rendering:geometricPrecision;">66,5<span style="display:inline-block;clip-path:polygon(-2px -2px,30px -2px,30px 13.00px,5.96px 13.00px,5.96px 30px,3.62px 30px,3.62px 13.00px,-2px 13.00px)">1</span>9</div>
<div class="t" id="t3_0" style="left:964.22px;top:136px;font-size:16.2px;color:#202124;letter-spacing:0.000px;-webkit-text-stroke:0.32px currentColor;text-rendering:geometricPrecision;"><span style="display:inline-block;clip-path:polygon(-2px -2px,30px -2px,30px 13.00px,5.96px 13.00px,5.96px 30px,3.62px 30px,3.62px 13.00px,-2px 13.00px)">1</span></div>
<div class="t" id="t3_1" style="left:972.65px;top:136px;font-size:16.2px;color:#202124;letter-spacing:0.000px;-webkit-text-stroke:0.32px currentColor;text-rendering:geometricPrecision;">m</div>
<div class="t" id="t3_2" style="left:991.33px;top:136px;font-size:16.2px;color:#202124;letter-spacing:0.638px;-webkit-text-stroke:0.32px currentColor;text-rendering:geometricPrecision;">33s</div>
<div class="t" id="t4_0" style="left:1142.33px;top:136px;font-size:16.2px;color:#202124;letter-spacing:1.000px;-webkit-text-stroke:0.32px currentColor;text-rendering:geometricPrecision;">0.99</div>
<div class="t" id="t5_0" style="left:1291.17px;top:136px;font-size:16.2px;color:#202124;letter-spacing:1.000px;-webkit-text-stroke:0.32px currentColor;text-rendering:geometricPrecision;">26.07</div>
<div class="t" id="s0_0" style="left:454.49px;top:162px;font-size:14.0px;color:#5f6368;letter-spacing:0.199px;"><span style="display:inline-block;clip-path:polygon(-2px -2px,30px -2px,30px 13.00px,5.06px 13.00px,5.06px 30px,3.22px 30px,3.22px 13.00px,-2px 13.00px)">1</span>00%</div>
<div class="t" id="s0_1" style="left:495.90px;top:162px;font-size:14.0px;color:#5f6368;letter-spacing:1.000px;">of</div>
<div class="t" id="s0_2" style="left:513.33px;top:162px;font-size:14.0px;color:#5f6368;letter-spacing:1.000px;">total</div>
<div class="t" id="s1_0" style="left:612.88px;top:162px;font-size:14.0px;color:#5f6368;letter-spacing:0.208px;"><span style="display:inline-block;clip-path:polygon(-2px -2px,30px -2px,30px 13.00px,5.06px 13.00px,5.06px 30px,3.22px 30px,3.22px 13.00px,-2px 13.00px)">1</span>00%</div>
<div class="t" id="s1_1" style="left:654.33px;top:162px;font-size:14.0px;color:#5f6368;letter-spacing:1.000px;">of</div>
<div class="t" id="s1_2" style="left:671.76px;top:162px;font-size:14.0px;color:#5f6368;letter-spacing:1.000px;">total</div>
<div class="t" id="s2_0" style="left:771.51px;top:162px;font-size:14.0px;color:#5f6368;letter-spacing:0.191px;"><span style="display:inline-block;clip-path:polygon(-2px -2px,30px -2px,30px 13.00px,5.06px 13.00px,5.06px 30px,3.22px 30px,3.22px 13.00px,-2px 13.00px)">1</span>00%</div>
<div class="t" id="s2_1" style="left:812.62px;top:162px;font-size:14.0px;color:#5f6368;letter-spacing:1.000px;">of</div>
<div class="t" id="s2_2" style="left:830.13px;top:162px;font-size:14.0px;color:#5f6368;letter-spacing:1.000px;">total</div>
<div class="t" id="s3_0" style="left:970.97px;top:162px;font-size:14.0px;color:#5f6368;letter-spacing:0.693px;">Avg</div>
<div class="t" id="s3_1" style="left:999.53px;top:162px;font-size:14.0px;color:#5f6368;letter-spacing:-0.900px;">0%</div>
<div class="t" id="s4_0" style="left:1129.47px;top:162px;font-size:14.0px;color:#5f6368;letter-spacing:0.521px;">Avg</div>
<div class="t" id="s4_1" style="left:1157.96px;top:162px;font-size:14.0px;color:#5f6368;letter-spacing:-0.900px;">0%</div>
<div class="t" id="s5_0" style="left:1287.90px;top:162px;font-size:14.0px;color:#5f6368;letter-spacing:0.613px;">Avg</div>
<div class="t" id="s5_1" style="left:1316.25px;top:162px;font-size:14.0px;color:#5f6368;letter-spacing:-0.900px;">0%</div>
</div>
</body></html>
